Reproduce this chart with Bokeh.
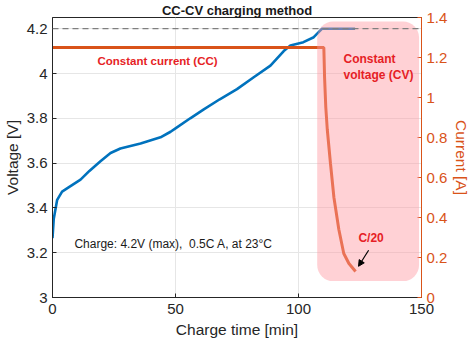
from bokeh.plotting import figure
from bokeh.models import (Range1d, LinearAxis, Label, BoxAnnotation, Arrow, NormalHead,
                          CustomJSTickFormatter, Span)
from bokeh.embed import file_html
from bokeh.resources import INLINE

# ---- data ----
time_v = [0, 0.5, 1.9, 3.9, 7, 11.4, 15, 19.5, 23.6, 27.6, 35.8, 43.9, 48, 50, 56, 61.5,
          68, 75, 81.8, 88.6, 94, 96.7, 102, 106.2, 109.6, 115, 123]
voltage = [3.265, 3.35, 3.436, 3.473, 3.495, 3.526, 3.565, 3.608, 3.645, 3.665, 3.688, 3.715,
           3.74, 3.755, 3.80, 3.84, 3.885, 3.93, 3.983, 4.035, 4.10, 4.125, 4.14, 4.162, 4.2,
           4.2, 4.2]
time_i = [0, 110.3, 110.6, 111.1, 111.7, 113, 114.4, 116.4, 118.4, 120.5, 123.2]
current = [1.25, 1.25, 1.1, 0.95, 0.84, 0.67, 0.5, 0.34, 0.22, 0.17, 0.13]
v_max = 4.2
x_ticks = [0, 50, 100, 150]
v_ticks = [3, 3.2, 3.4, 3.6, 3.8, 4.0, 4.2]
i_ticks = [0, 0.2, 0.4, 0.6, 0.8, 1.0, 1.2, 1.4]

BLUE = "#0072BD"
ORANGE = "#D95319"
RED = "#E61E25"
FONT = "Liberation Sans"

p = figure(width=474, height=347, x_range=Range1d(0, 150), y_range=Range1d(3, 4.25),
           output_backend="svg", toolbar_location=None,
           min_border_left=52, min_border_right=53, min_border_top=0, min_border_bottom=50)
p.extra_y_ranges = {"cur": Range1d(0, 1.4)}

p.title.text = "CC-CV charging method"
p.title.align = "center"
p.title.text_font = FONT
p.title.text_font_size = "13px"
p.title.text_font_style = "bold"
p.title.text_color = "#1A1A1A"
p.title.standoff = 0
p.title.offset = 0

fmt = CustomJSTickFormatter(code="return Number(tick.toFixed(1)).toString();")

p.xaxis.ticker = x_ticks
p.yaxis.ticker = v_ticks
for ax in (p.xaxis[0], p.yaxis[0]):
    ax.formatter = fmt
    ax.major_tick_in = 4
    ax.major_tick_out = 0
    ax.minor_tick_line_color = None
    ax.axis_line_color = "#262626"
    ax.major_tick_line_color = "#262626"
    ax.major_label_text_font = FONT
    ax.major_label_text_font_size = "15px"
    ax.major_label_text_color = "#262626"
    ax.axis_label_text_font = FONT
    ax.axis_label_text_font_size = "15.5px"
    ax.axis_label_text_font_style = "normal"
    ax.axis_label_text_color = "#262626"
p.xaxis.axis_label = "Charge time [min]"
p.yaxis.axis_label = "Voltage [V]"
p.xaxis.major_label_standoff = 6
p.xaxis.axis_label_standoff = 4
p.yaxis.major_label_standoff = 5
p.yaxis.axis_label_standoff = 3

rax = LinearAxis(y_range_name="cur", ticker=i_ticks, formatter=fmt, axis_label="Current [A]")
rax.major_tick_in = 4
rax.major_tick_out = 0
rax.minor_tick_line_color = None
rax.axis_line_color = ORANGE
rax.major_tick_line_color = ORANGE
rax.major_label_text_color = ORANGE
rax.major_label_text_font = FONT
rax.major_label_text_font_size = "15px"
rax.axis_label_text_font = FONT
rax.axis_label_text_font_size = "15.5px"
rax.axis_label_text_font_style = "normal"
rax.axis_label_text_color = ORANGE
rax.major_label_standoff = 5
rax.axis_label_standoff = 3
p.add_layout(rax, "right")

p.xgrid.grid_line_color = "#E6E6E6"
p.ygrid.grid_line_color = "#E6E6E6"
p.outline_line_color = "#262626"
p.outline_line_width = 1

# pink CV region
box = BoxAnnotation(left=107.6, right=149, bottom=0.082, top=1.38, y_range_name="cur",
                    fill_color="#FF9AA2", fill_alpha=0.45, line_color=None, border_radius=16)
p.add_layout(box)

# dashed 4.2 V limit
p.add_layout(Span(location=v_max, dimension="width", line_color="#7F7F7F", line_width=1.3,
                  line_dash="6 4"))

p.line(time_v, voltage, line_color=BLUE, line_width=2.6)
p.line(time_i, current, line_color=ORANGE, line_width=3, y_range_name="cur")

p.add_layout(Label(x=18.3, y=4.056, text="Constant current (CC)", text_font=FONT,
                   text_font_style="bold", text_font_size="11.5px", text_color=RED,
                   text_baseline="middle"))
p.add_layout(Label(x=118.3, y=1.23, y_range_name="cur", text="Constant\nvoltage (CV)",
                   text_font=FONT, text_font_style="bold", text_font_size="12px",
                   text_color=RED, text_baseline="top", text_line_height=1.15))
p.add_layout(Label(x=129.5, y=0.296, y_range_name="cur", text="C/20", text_font=FONT,
                   text_font_style="bold", text_font_size="12px", text_color=RED,
                   text_align="center", text_baseline="middle"))
p.add_layout(Arrow(x_start=128.5, y_start=0.236, x_end=124.4, y_end=0.156, y_range_name="cur",
                   line_color="black", line_width=1.2,
                   end=NormalHead(size=6, fill_color="black", line_color="black")))
p.add_layout(Label(x=8.9, y=3.238, text="Charge: 4.2V (max), \u00a00.5C A, at 23°C",
                   text_font=FONT, text_font_size="12px", text_color="#1A1A1A",
                   text_baseline="middle"))

open("out.html", "w").write(file_html(p, INLINE))
